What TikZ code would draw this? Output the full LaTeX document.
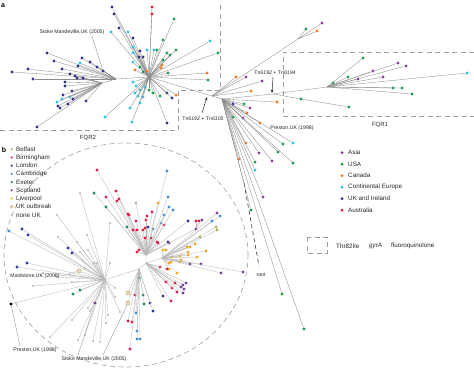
\documentclass[tikz,border=0pt]{standalone}
\usepackage{fontspec}
\setmainfont{Liberation Sans}
\usetikzlibrary{arrows.meta}

\definecolor{asia}{HTML}{8B3FA0}
\definecolor{usa}{HTML}{1B9E4B}
\definecolor{canada}{HTML}{F47B20}
\definecolor{europe}{HTML}{29C4E8}
\definecolor{ukire}{HTML}{2E3587}
\definecolor{austr}{HTML}{E3202B}
\definecolor{belfast}{HTML}{B8A85A}
\definecolor{birm}{HTML}{E01E48}
\definecolor{london}{HTML}{2B3A8C}
\definecolor{cambr}{HTML}{4A8FC9}
\definecolor{exeter}{HTML}{1E8C5A}
\definecolor{scot}{HTML}{7A3F98}
\definecolor{liver}{HTML}{F5A623}
\definecolor{outbr}{HTML}{C9B27A}
\definecolor{noneuk}{HTML}{B4B4B4}

\tikzset{
  leaf/.style={circle, fill=#1, inner sep=0pt, minimum size=3.1pt},
  outb/.style={circle, draw=outbr, fill=outbr!50, line width=0.4pt, inner sep=0pt, minimum size=4.4pt},
  edgeA/.style={draw=black!45, line width=0.35pt},
  edgeB/.style={draw=black!28, line width=0.35pt},
  fqr/.style={draw=black!38, dash pattern=on 5pt off 3.5pt, line width=0.6pt},
  lab/.style={font=\fontsize{5.2}{6}\selectfont, text=black!85, inner sep=0pt},
  legtext/.style={font=\fontsize{6.3}{7}\selectfont, text=black!85, anchor=west, inner sep=0pt},
  panel/.style={font=\bfseries\fontsize{7}{8}\selectfont, inner sep=0pt},
}

\begin{document}
\begin{tikzpicture}[x=1pt,y=-1pt]
\useasboundingbox (0,0) rectangle (474,367);

% ---------- panel a ----------
\node[panel] (pa) at (3,6) {a};

\draw[fqr] (0,130) -- (178,130) -- (178,90) -- (220,90) -- (220,2);
\draw[fqr] (474,52) -- (283,52) -- (283,116) -- (474,116);
\node[lab, font=\fontsize{6}{7}\selectfont] (fqr1) at (380,125) {FQR1};

\coordinate (A) at (149,77);
\coordinate (L1) at (116,79);
\coordinate (L2) at (102,83);
\coordinate (B) at (212,96);
\coordinate (B1) at (298,39);
\coordinate (C) at (222,99);
\coordinate (F) at (273,94);
\coordinate (F2) at (327,87);
\coordinate (R0) at (244,183);
\coordinate (R1) at (259,266);

\draw[edgeA] (L2) -- (L1) -- (A) -- (B) -- (C) -- (F) -- (F2);
\draw[edgeA] (B) -- (B1);
\draw[edgeA] (C) -- (R0);
\draw[black!80, dash pattern=on 4pt off 3pt, line width=0.6pt] (R0) -- (R1);
\node[lab] (root) at (261,275) {root};

\foreach \x/\y/\c [count=\i] in {112/7/ukire, 114/14/ukire, 119/28/ukire, 111/32/europe, 128/32/europe,
  133/38/ukire, 133/47/europe, 140/51/ukire, 147/50/europe, 154/50/europe, 133/53/europe,
  139/57/ukire, 143/57/ukire, 133/62/europe, 140/67/usa, 135/70/canada, 143/72/usa,
  147/71/canada, 152/7/austr, 152/14/austr, 174/19/usa, 163/40/usa, 157/50/usa, 167/53/usa,
  170/55/usa, 176/50/usa, 163/60/usa, 162/65/canada, 161/68/canada, 168/73/usa, 210/41/europe,
  218/53/usa, 207/73/canada, 208/80/usa, 133/82/europe, 136/86/europe, 140/90/europe,
  145/87/europe, 149/90/usa, 135/93/europe, 138/96/europe, 143/97/europe, 153/93/usa,
  160/96/usa, 167/93/ukire, 172/98/ukire, 176/95/canada, 140/103/europe, 130/108/europe,
  105/117/europe, 132/122/europe, 167/123/ukire}
  {\node[leaf=\c] (ta\i) at (\x,\y) {}; \draw[edgeA] (A) -- (ta\i);}

\foreach \x/\y/\c [count=\i] in {12/72/ukire, 47/53/ukire, 54/61/ukire, 80/63/europe, 82/58/ukire,
  90/62/ukire, 97/67/ukire, 103/71/ukire, 78/66/ukire, 62/69/ukire, 28/69/ukire, 33/79/ukire}
  {\node[leaf=\c] (tl\i) at (\x,\y) {}; \draw[edgeA] (L1) -- (tl\i);}

\foreach \x/\y/\c [count=\i] in {70/74/ukire, 75/76/ukire, 77/78/ukire, 83/78/ukire, 65/82/ukire,
  65/86/ukire, 72/91/ukire, 63/95/ukire, 70/97/europe, 62/99/europe, 57/102/europe,
  58/106/ukire, 60/108/ukire, 68/104/ukire, 73/99/ukire, 86/101/ukire, 37/127/ukire}
  {\node[leaf=\c] (tm\i) at (\x,\y) {}; \draw[edgeA] (L2) -- (tm\i);}

\foreach \x/\y/\c [count=\i] in {306/29/usa, 317/31/canada, 322/23/asia}
  {\node[leaf=\c] (tb\i) at (\x,\y) {}; \draw[edgeA] (B1) -- (tb\i);}
\foreach \x/\y/\c [count=\i] in {236/77/canada, 246/77/asia, 262/81/asia, 251/91/canada}
  {\node[leaf=\c] (tn\i) at (\x,\y) {}; \draw[edgeA] (B) -- (tn\i);}

\foreach \x/\y/\c [count=\i] in {233/104/ukire, 244/104/usa, 250/108/asia, 247/113/canada,
  233/117/usa, 243/118/asia, 260/123/canada, 283/144/usa, 293/143/europe, 278/152/usa,
  293/163/usa, 272/161/asia, 259/153/asia, 246/143/canada, 255/162/usa, 255/170/europe,
  239/159/canada, 263/197/asia, 251/210/usa, 282/294/usa, 304/329/usa, 277/102/canada}
  {\node[leaf=\c] (tc\i) at (\x,\y) {}; \draw[edgeA] (C) -- (tc\i);}

% FQR1 clade
\node[leaf=europe] (fend) at (467,73) {};
\draw[edgeA] (F2) -- (fend);
\node[leaf=usa] (f4) at (301,99) {};
\node[leaf=usa] (f5) at (349,107) {};
\draw[edgeA] (F) -- (f4) -- (f5);
\foreach \x/\y/\c [count=\i] in {333/83/usa, 363/58/usa, 348/77/usa, 358/79/asia, 373/71/asia,
  383/77/asia, 398/63/asia, 406/66/asia, 393/88/usa, 402/88/usa, 412/94/usa}
  {\node[leaf=\c] (tf\i) at (\x,\y) {}; \draw[edgeA] (F2) -- (tf\i);}

% labels and arrows
\node[lab] (stokeA) at (72,32) {Stoke Mandeville,UK (2005)};
\draw[edgeA] (92,36) -- (tl8);
\node[lab] (t105) at (203,119) {Tn\textit{6192} + Tn\textit{6105}};
\coordinate (p105) at (207,97);
\draw[-{Stealth[length=3.5pt,width=2.6pt]}, black!85, line width=0.5pt] (202,113) -- (p105);
\node[lab] (t194) at (275,73) {Tn\textit{6192} + Tn\textit{6194}};
\coordinate (p194) at (272,93);
\draw[-{Stealth[length=3.5pt,width=2.6pt]}, black!85, line width=0.5pt] (273,77) -- (p194);
\node[lab] (prestA) at (292,128) {Preston,UK (1998)};

% legend a
\foreach \t/\c [count=\i] in {Asia/asia, USA/usa, Canada/canada, Continental Europe/europe,
  UK and Ireland/ukire, Australia/austr}
  {\node[leaf=\c] (ka\i) at (342,141.2+11.5*\i) {};
   \node[legtext] (la\i) at (348,141.2+11.5*\i) {\t};}

\draw[fqr] (307,237) rectangle (327,253);
\node[legtext] (thr) at (336,246) {Thr82Ile};
\node[legtext] (gyr) at (369,246) {\textit{gyrA}};
\node[legtext] (flq) at (391,246) {fluoroquinolone};

% ---------- panel b ----------
\node[panel] (pb) at (4,150) {b};
\begin{scope}
\clip (0,0) rectangle (474,367);
\draw[fqr] (126,255) ellipse [x radius=122pt, y radius=112pt];
\end{scope}
\node[lab, font=\fontsize{6}{7}\selectfont] (fqr2) at (88,138) {FQR2};

\coordinate (R) at (146,255);
\coordinate (O) at (162,258);
\coordinate (N) at (146,263);
\coordinate (M) at (139,269);
\coordinate (G) at (105,280);
\draw[edgeB] (G) -- (M) -- (N) -- (R);
\draw[edgeB] (N) -- (O);

\foreach \x/\y/\c [count=\i] in {80/193, 57/215, 58/237, 87/235, 110/223, 77/242, 88/250,
  33/286, 43/273, 57/277, 70/275, 72/282, 85/268, 80/252, 94/263, 97/263, 110/263, 115/288,
  115/297, 120/312, 90/311, 88/308, 72/320, 50/337, 78/340, 85/335, 93/341, 100/342,
  106/323, 108/315}
  {\node[leaf=noneuk, minimum size=2.2pt] (tg\i) at (\x,\y) {}; \draw[edgeB] (G) -- (tg\i);}
\foreach \x/\y/\c [count=\i] in {22/229/london, 28/235/london, 9/231/cambr, 27/263/london,
  17/267/london, 73/294/exeter, 80/290/exeter, 95/303/scot, 68/248/london, 72/253/london,
  11/304/black}
  {\node[leaf=\c] (tk\i) at (\x,\y) {}; \draw[edgeB] (G) -- (tk\i);}
\node[outb] (maid) at (79,271) {};
\draw[edgeB] (G) -- (maid);

\foreach \x/\y/\c [count=\i] in {97/170/birm, 94/193/exeter, 106/197/birm, 106/207/exeter,
  116/191/birm, 119/199/birm, 117/201/birm, 127/227/exeter, 128/214/birm, 129/215/birm,
  136/203/noneuk, 136/221/birm, 133/230/birm, 137/230/birm, 143/230/birm, 146/220/birm,
  147/216/birm, 152/212/birm, 145/228/birm, 148/227/london, 153/229/cambr, 151/238/birm,
  158/203/liver, 161/223/cambr, 164/215/cambr, 164/225/birm, 168/197/cambr, 167/171/cambr,
  169/207/cambr, 173/210/cambr, 157/242/birm, 158/243/birm, 168/242/london, 169/243/scot,
  139/250/birm, 137/252/birm, 145/238/birm, 188/221/london, 196/229/scot}
  {\node[leaf=\c] (tr\i) at (\x,\y) {}; \draw[edgeB] (R) -- (tr\i);}
\foreach \x/\y/\c [count=\i] in {196/221/birm, 199/221/birm, 202/220/scot}
  {\node[leaf=\c] (ts\i) at (\x,\y) {}; \draw[edgeB] (tr39) -- (ts\i);}

\foreach \x/\y/\c [count=\i] in {163/250/liver, 166/250/liver, 172/257/liver, 169/263/liver,
  171/262/liver, 180/256/liver, 181/260/liver, 180/262/liver, 188/252/liver, 188/255/liver,
  190/247/liver, 195/244/liver, 197/257/liver, 206/251/liver, 187/247/liver, 177/273/liver,
  169/269/liver, 190/264/scot, 201/264/scot, 221/273/scot, 243/272/scot, 217/213/scot,
  220/216/cambr, 216/227/belfast, 217/230/belfast, 200/237/belfast, 212/221/cambr}
  {\node[leaf=\c] (to\i) at (\x,\y) {}; \draw[edgeB] (O) -- (to\i);}

\foreach \x/\y/\c [count=\i] in {183/285/scot, 184/289/scot, 183/293/scot, 181/287/scot,
  186/283/scot, 175/283/birm, 172/288/birm, 177/292/birm, 166/282/birm, 163/296/london,
  171/301/birm, 160/267/birm, 167/269/birm}
  {\node[leaf=\c] (tq\i) at (\x,\y) {}; \draw[edgeB] (N) -- (tq\i);}

\foreach \x/\y/\c [count=\i] in {139/278/exeter, 135/295/birm, 143/295/exeter, 144/304/exeter,
  150/303/london, 153/311/london, 136/313/cambr, 128/321/birm, 132/322/birm, 137/331/cambr,
  137/339/cambr, 140/339/cambr, 130/349/birm}
  {\node[leaf=\c] (tp\i) at (\x,\y) {}; \draw[edgeB] (M) -- (tp\i);}
\node[outb] (ob1) at (128,293) {};
\node[outb] (ob2) at (128,303) {};
\draw[edgeB] (M) -- (ob1);
\draw[edgeB] (M) -- (ob2);

\node[lab] (maidl) at (35,276) {Maidstone,UK (2006)};
\draw[edgeB] (maidl.east) -- (maid);
\node[lab] (prestB) at (35,350) {Preston,UK (1998)};
\draw[edgeA] (20,346) -- (tk11);
\node[lab] (stokeB) at (94,359) {Stoke Mandeville,UK (2005)};
\draw[edgeA] (78,355) -- (tk8);
\draw[edgeA] (103,355) -- (ob2);

% legend b
\foreach \t/\c [count=\i] in {Belfast/belfast, Birmingham/birm, London/london, Cambridge/cambr,
  Exeter/exeter, Scotland/scot, Liverpool/liver}
  {\node[leaf=\c, minimum size=2.4pt] (kb\i) at (11.7,141.1+8.2*\i) {};
   \node[legtext] (lb\i) at (16,141.1+8.2*\i) {\t};}
\node[outb, minimum size=3.2pt] (kb8) at (11.7,206.7) {};
\node[legtext] (lb8) at (16,206.7) {UK outbreak};
\node[leaf=noneuk, minimum size=2pt] (kb9) at (11.7,214.9) {};
\node[legtext] (lb9) at (16,214.9) {none UK};
\end{tikzpicture}
\end{document}
